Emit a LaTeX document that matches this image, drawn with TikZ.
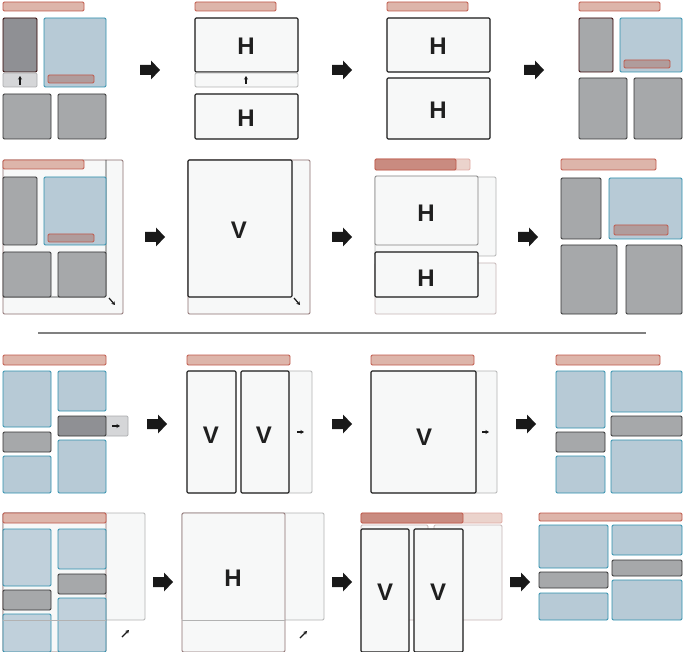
\documentclass[tikz,border=0pt]{standalone}
\usepackage{fontspec}
\setmainfont{Liberation Sans}
\usetikzlibrary{arrows.meta}
\definecolor{ttl}{HTML}{DDB5AA}\definecolor{ttlb}{HTML}{C0584A}
\definecolor{ttld}{HTML}{C98B80}
\definecolor{gr}{HTML}{A6A8AA}\definecolor{dgr}{HTML}{8F9094}
\definecolor{lgr}{HTML}{D5D6D8}
\definecolor{bl}{HTML}{B7CAD6}\definecolor{blb}{HTML}{2E90AE}
\definecolor{wh}{HTML}{F7F8F8}\definecolor{brn}{HTML}{8B6E6E}
\definecolor{bar}{HTML}{B09C9C}
\tikzset{
 r/.style={rounded corners=1.2pt},
 title/.style={r,fill=ttl,draw=ttlb,line width=0.9pt},
 titled/.style={r,fill=ttld,draw=ttlb,line width=0.9pt},
 titlel/.style={r,fill=ttl!60,draw=ttlb!50,line width=0.9pt},
 grb/.style={r,fill=gr,draw=black!80,line width=0.9pt},
 dgrb/.style={r,fill=dgr,draw=black!80,line width=0.9pt},
 lgrb/.style={r,fill=lgr,draw=lgr!80!black,line width=0.7pt},
 blub/.style={r,fill=bl,draw=blb,line width=0.9pt},
 blut/.style={r,fill=bl,fill opacity=0.85,draw=blb,line width=0.9pt},
 barb/.style={r,fill=bar,draw=ttlb,line width=0.9pt},
 whb/.style={r,fill=wh,draw=black!90,line width=1.1pt},
 ghost/.style={r,fill=wh,draw=black!30,line width=0.9pt},
 ghostt/.style={r,fill=wh,fill opacity=0.5,draw=black!30,line width=0.9pt},
 frame/.style={r,fill=wh,draw=brn,line width=0.9pt},
 frameo/.style={r,draw=brn,line width=0.9pt},
 ghostb/.style={r,fill=wh,draw=brn!50,line width=0.9pt},
 lbl/.style={font=\fontsize{24}{24}\selectfont\bfseries,text=black!88},
 sm/.style={-{Stealth[length=3.5pt,width=4pt]},line width=1.2pt,black!90},
}
\newcommand\bx[5]{\draw[#1] (#2,#3) rectangle (#4,#5);}
\newcommand\barr[2]{\fill[black!90] (#1,#2-5) -- ++(11,0) -- ++(0,-4.5) -- ++(9,9.5) -- ++(-9,9.5) -- ++(0,-4.5) -- ++(-11,0) -- cycle;}
\begin{document}
\begin{tikzpicture}[x=1pt,y=-1pt]
\useasboundingbox (0,0) rectangle (685,652);
% ---------- row 1
\bx{title}{3}{2}{84}{11}
\bx{dgrb,draw=black!70!red!60!black}{3}{18}{37}{72}
\bx{lgrb}{3}{73}{37}{87}
\draw[sm] (20,85) -- (20,76);
\bx{blub}{44}{18}{106}{87}
\bx{barb}{48}{75}{94}{83}
\bx{grb}{3}{94}{51}{139}\bx{grb}{58}{94}{106}{139}
\barr{140}{70}
\bx{title}{195}{2}{276}{11}
\bx{whb}{195}{18}{298}{72}\node[lbl] (h1) at (246,46) {H};
\bx{ghost}{195}{73}{298}{87}\draw[sm] (246,84) -- (246,76);
\bx{whb}{195}{94}{298}{139}\node[lbl] (h2) at (246,118) {H};
\barr{332}{70}
\bx{title}{387}{2}{468}{11}
\bx{whb}{387}{18}{490}{72}\node[lbl] (h3) at (438,46) {H};
\bx{whb}{387}{78}{490}{139}\node[lbl] (h4) at (438,110) {H};
\barr{524}{70}
\bx{title}{579}{2}{660}{11}
\bx{grb,draw=black!60!red!50!black}{579}{18}{613}{72}
\bx{blub}{620}{18}{682}{72}\bx{barb}{624}{60}{670}{68}
\bx{grb}{579}{78}{627}{139}\bx{grb}{634}{78}{682}{139}
% ---------- row 2
\bx{frame}{3}{160}{123}{314}
\draw[frameo,draw=black!80] (106,160) -- (106,297) -- (3,297);
\bx{title}{3}{160}{84}{169}
\bx{grb}{3}{177}{37}{245}
\bx{blub}{44}{177}{106}{245}\bx{barb}{48}{234}{94}{242}
\bx{grb}{3}{252}{51}{297}\bx{grb}{58}{252}{106}{297}
\draw[sm] (109,298) -- (115,305);
\barr{145}{237}
\bx{frame}{188}{160}{310}{314}
\bx{whb}{188}{160}{292}{297}\node[lbl] (v1) at (239,230) {V};
\draw[sm] (294,298) -- (300,305);
\barr{332}{237}
\bx{titlel}{375}{159}{470}{170}\bx{titled}{375}{159}{456}{170}
\bx{ghost}{375}{177}{496}{256}
\bx{whb,draw=black!50,line width=0.9pt}{375}{176}{478}{245}\node[lbl] (h5) at (426,213) {H};
\bx{ghostb}{375}{263}{496}{314}
\bx{whb}{375}{252}{478}{297}\node[lbl] (h6) at (426,278) {H};
\barr{518}{237}
\bx{title}{561}{159}{656}{170}
\bx{grb}{561}{178}{601}{239}
\bx{blub}{609}{178}{682}{239}\bx{barb}{614}{225}{668}{235}
\bx{grb}{561}{245}{617}{314}\bx{grb}{626}{245}{682}{314}
% separator
\draw[black!50,line width=1.2pt] (38,333) -- (646,333);
% ---------- row 3
\bx{title}{3}{355}{106}{365}
\bx{blub}{3}{371}{51}{427}\bx{blub}{58}{371}{106}{411}
\bx{lgrb}{104}{416}{128}{436}\draw[sm] (112,426) -- (120,426);
\bx{dgrb}{58}{416}{106}{436}
\bx{grb}{3}{432}{51}{452}
\bx{blub}{3}{456}{51}{493}\bx{blub}{58}{440}{106}{493}
\barr{147}{424}
\bx{title}{187}{355}{290}{365}
\bx{ghost}{287}{371}{312}{493}
\bx{whb}{187}{371}{236}{493}\node[lbl] (v2) at (211,435) {V};
\bx{whb}{241}{371}{289}{493}\node[lbl] (v3) at (264,435) {V};
\draw[sm] (297,432) -- (304,432);
\barr{332}{424}
\bx{title}{371}{355}{474}{365}
\bx{ghost}{474}{371}{497}{493}
\bx{whb}{371}{371}{476}{493}\node[lbl] (v4) at (424,437) {V};
\draw[sm] (482,432) -- (489,432);
\barr{516}{424}
\bx{title}{556}{355}{660}{365}
\bx{blub}{556}{371}{605}{428}\bx{grb}{556}{432}{605}{452}\bx{blub}{556}{456}{605}{493}
\bx{blub}{611}{371}{682}{412}\bx{grb}{611}{416}{682}{436}\bx{blub}{611}{440}{682}{493}
% ---------- row 4
\bx{ghost}{3}{513}{145}{620}
\bx{frame}{3}{513}{106}{652}
\bx{title}{3}{513}{106}{523}
\bx{blut}{3}{529}{51}{586}\bx{blut}{58}{529}{106}{569}
\bx{grb}{58}{574}{106}{594}\bx{grb}{3}{590}{51}{610}
\bx{blut}{3}{614}{51}{652}\bx{blut}{58}{598}{106}{652}
\draw[black!30,line width=0.9pt] (3,620) -- (106,620);
\draw[sm] (122,637) -- (129,630);
\barr{153}{582}
\bx{ghost}{182}{513}{324}{620}
\bx{frame}{182}{513}{285}{652}
\draw[black!30,line width=0.9pt] (182,620) -- (285,620);
\node[lbl] (h7) at (233,578) {H};
\draw[sm] (300,638) -- (307,631);
\barr{332}{582}
\bx{ghostb}{361}{525}{428}{620}\bx{ghostb}{434}{525}{502}{620}
\bx{titlel}{361}{513}{502}{523}\bx{titled}{361}{513}{463}{523}
\bx{whb}{361}{529}{409}{652}\node[lbl] (v5) at (385,592) {V};
\bx{whb}{414}{529}{463}{652}\node[lbl] (v6) at (438,592) {V};
\barr{510}{582}
\bx{title}{539}{513}{682}{521}
\bx{blub}{539}{525}{608}{568}\bx{grb}{539}{572}{608}{588}\bx{blub}{539}{593}{608}{620}
\bx{blub}{612}{525}{682}{555}\bx{grb}{612}{560}{682}{576}\bx{blub}{612}{580}{682}{620}
\end{tikzpicture}
\end{document}
